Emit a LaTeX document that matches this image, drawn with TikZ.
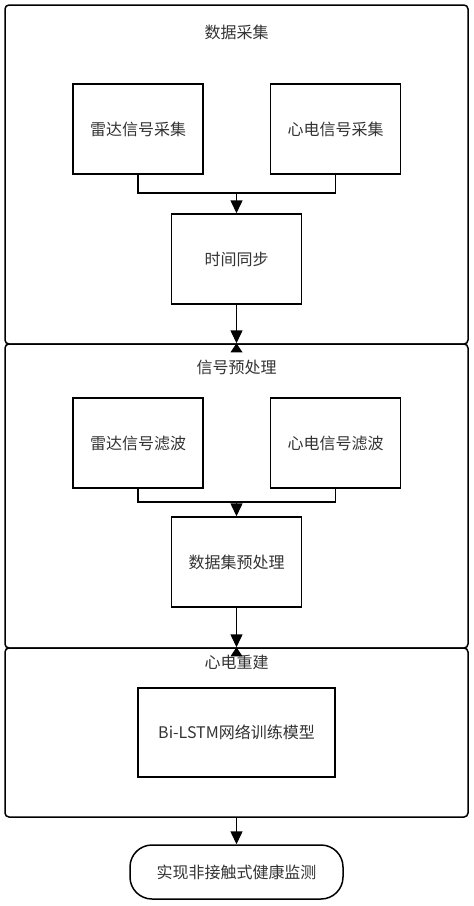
\documentclass[tikz,border=0pt]{standalone}
\usepackage{fontspec}
\newfontfamily\cjk{Noto Sans CJK SC}
\usetikzlibrary{arrows.meta}

\begin{document}
\begin{tikzpicture}[x=1pt,y=-1pt,line width=1.5pt]
            \tikzstyle{group box}=[draw,rounded corners=4pt,minimum width=463pt,inner sep=0];
            \tikzstyle{step box}=[draw,minimum width=130pt,minimum height=90pt,inner sep=0,font=\cjk\fontsize{16}{19}\selectfont,text=black!80];
            \tikzstyle{title}=[font=\cjk\fontsize{16}{19}\selectfont,text=black!80];
            \tikzstyle{flow}=[-{Triangle[width=12pt,length=13pt]}];
            \useasboundingbox (0,0) rectangle (474,906);
            % three stages
            \node[group box,minimum height=339pt] (acq) at (236.5,174.5) {};
            \node[group box,minimum height=304pt] (pre) at (236.5,496) {};
            \node[group box,minimum height=169pt] (rec) at (236.5,732.5) {};
            \node[title] (acqt) at (236.5,32) {数据采集};
            \node[title] (pret) at (236.5,367) {信号预处理};
            \node[title] (rect) at (236.5,662) {心电重建};
            % boxes
            \node[step box] (radar) at (138,129) {雷达信号采集};
            \node[step box] (ecg) at (335.5,129) {心电信号采集};
            \node[step box] (sync) at (236.5,259) {时间同步};
            \node[step box] (rfilt) at (138,443) {雷达信号滤波};
            \node[step box] (efilt) at (335.5,443) {心电信号滤波};
            \node[step box] (data) at (236.5,562) {数据集预处理};
            \node[step box,minimum width=197pt,minimum height=89pt] (lstm) at (236.5,732.5) {Bi-LSTM网络训练模型};
            \node[step box,minimum width=213pt,minimum height=54pt,rounded corners=22pt] (mon) at (236.5,872) {实现非接触式健康监测};
            \coordinate (j1) at (236.5,193);
            \coordinate (j2) at (236.5,502);
            % connectors
            \draw (radar.south) |- (j1) -| (ecg.south);
            \draw[flow] (j1) -- (sync.north);
            \draw (rfilt.south) |- (j2) -| (efilt.south);
            \draw[flow] (j2) -- (data.north);
            \draw[flow] (sync.south) -- (pre.north);
            \draw[flow] (data.south) -- (rec.north);
            \draw[flow] (rec.south) -- (mon.north);
            \foreach \g in {pre,rec} \fill (\g.north) -- ++(-6,9) -- ++(12,0) -- cycle;
\end{tikzpicture}
\end{document}
